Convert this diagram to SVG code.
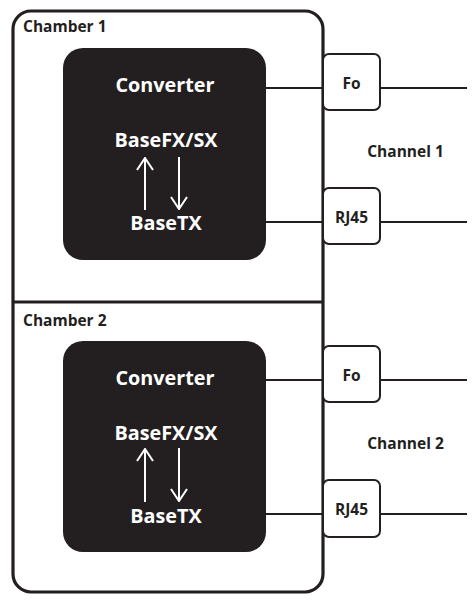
<svg xmlns="http://www.w3.org/2000/svg" width="474" height="604" viewBox="0 0 474 604">
<defs>
<style>
.t{font-family:"Open Sans","Liberation Sans",sans-serif;font-weight:bold;}
.lbl{font-size:15.5px;fill:#231f20;}
.big{font-size:19.8px;fill:#ffffff;text-anchor:middle;}
.port{fill:#ffffff;stroke:#231f20;stroke-width:2;}
.conv{fill:#231f20;}
.wire{stroke:#231f20;stroke-width:2;fill:none;}
.arr{stroke:#ffffff;stroke-width:2;fill:none;}
</style>
<marker id="ah" viewBox="0 0 14 20" refX="13" refY="10" markerWidth="14" markerHeight="20" markerUnits="userSpaceOnUse" orient="auto">
<path d="M1,2 L13,10 L1,18" fill="none" stroke="#ffffff" stroke-width="2"/>
</marker>
</defs>
<rect width="474" height="604" fill="#ffffff"/>
<g id="outer">
<rect x="13" y="11" width="310" height="581" rx="18" fill="none" stroke="#231f20" stroke-width="3.2"/>
<line x1="13" y1="302" x2="323" y2="302" stroke="#231f20" stroke-width="3.2"/>
<text class="t lbl" x="23" y="32">Chamber 1</text>
<text class="t lbl" x="23" y="326">Chamber 2</text>
</g>
<g id="connectors">
<line class="wire" x1="266" y1="88" x2="323" y2="88"/>
<line class="wire" x1="380" y1="88" x2="467" y2="88"/>
<line class="wire" x1="266" y1="222" x2="323" y2="222"/>
<line class="wire" x1="380" y1="222" x2="467" y2="222"/>
<line class="wire" x1="266" y1="380" x2="323" y2="380"/>
<line class="wire" x1="380" y1="380" x2="467" y2="380"/>
<line class="wire" x1="266" y1="514" x2="323" y2="514"/>
<line class="wire" x1="380" y1="514" x2="467" y2="514"/>
</g>
<g id="converter1">
<rect class="conv" x="63" y="48" width="203" height="212" rx="20"/>
<text class="t big" x="165" y="92">Converter</text>
<text class="t big" x="166" y="147">BaseFX/SX</text>
<text class="t big" x="166" y="230">BaseTX</text>
<line class="arr" x1="145" y1="210" x2="145" y2="158" marker-end="url(#ah)"/>
<line class="arr" x1="179" y1="157" x2="179" y2="209" marker-end="url(#ah)"/>
</g>
<g id="converter2">
<rect class="conv" x="63" y="341" width="203" height="211" rx="20"/>
<text class="t big" x="165" y="385">Converter</text>
<text class="t big" x="166" y="440">BaseFX/SX</text>
<text class="t big" x="166" y="523">BaseTX</text>
<line class="arr" x1="145" y1="502" x2="145" y2="449" marker-end="url(#ah)"/>
<line class="arr" x1="179" y1="448" x2="179" y2="501" marker-end="url(#ah)"/>
</g>
<g id="fo1">
<rect class="port" x="323" y="54" width="57" height="56" rx="6"/>
<text class="t lbl" x="351.5" y="89" text-anchor="middle">Fo</text>
</g>
<g id="rj45-1">
<rect class="port" x="323" y="188" width="57" height="56" rx="6"/>
<text class="t lbl" x="351.5" y="223" text-anchor="middle">RJ45</text>
</g>
<g id="fo2">
<rect class="port" x="323" y="346" width="57" height="56" rx="6"/>
<text class="t lbl" x="351.5" y="381" text-anchor="middle">Fo</text>
</g>
<g id="rj45-2">
<rect class="port" x="323" y="480" width="57" height="57" rx="6"/>
<text class="t lbl" x="351.5" y="515" text-anchor="middle">RJ45</text>
</g>
<g id="channels">
<text class="t lbl" x="405.5" y="157" text-anchor="middle">Channel 1</text>
<text class="t lbl" x="405.5" y="449" text-anchor="middle">Channel 2</text>
</g>
</svg>
